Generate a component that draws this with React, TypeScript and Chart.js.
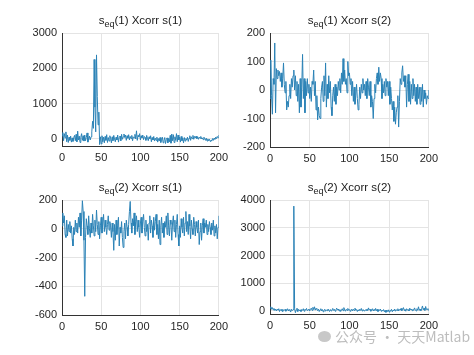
import React, { useEffect, useRef } from 'react';
import { Chart, registerables } from 'chart.js';
Chart.register(...registerables);

// ---------------- data ----------------
const xTicks = [0, 50, 100, 150, 200];

const yTicksA = [0, 1000, 2000, 3000];
const yTicksB = [-200, -100, 0, 100, 200];
const yTicksC = [-600, -400, -200, 0, 200];
const yTicksD = [0, 1000, 2000, 3000, 4000];

// s_eq(1) Xcorr s(1)
const seriesA = [
  90, 180, -50, 150, 30, 200, -80, 110, -100, 50,
  -40, 80, -90, 30, -70, 40, 100, -50, 130, -80,
  220, -30, 80, -100, 50, 150, -40, 90, -60, 110,
  -50, 40, 170, -90, 10, 80, -30, 60, 200, 500,
  300, 2250, 900, 200, 2380, 1200, 400, 760, -160, 60,
  -140, 90, -80, 50, -110, 70, -40, 120, -100, 40,
  -60, 90, 20, -110, 60, -50, 100, 0, -80, 50,
  -30, 110, -90, 40, 80, -50, 130, -10, 60, 140,
  40, 110, -40, 90, 20, 120, -30, 70, 10, 100,
  -50, 60, 30, 130, 0, 230, -40, 100, 60, 150,
  -30, 90, 30, 110, -20, 70, 40, -40, 100, 20,
  -50, 60, 10, 90, -80, 40, -30, 70, -60, 20,
  -40, 50, -90, 10, -60, 40, -100, -10, 50, -110,
  -50, 40, -130, -20, 30, -110, 10, -80, 100, -120,
  140, -50, 120, -100, 60, -40, 150, -80, 110, -30,
  50, -90, 70, -50, 20, -110, 40, -60, 10, -30,
  50, -70, 20, 90, -40, 60, 10, 100, -10, 70,
  30, 80, 10, 60, -10, 50, 20, 70, 0, 30,
  -20, 50, 10, -40, 20, -60, 0, -50, -10, -70,
  -30, -60, 10, -40, 20, -10, 50, 10, 70, 30,
  110,
];

// s_eq(1) Xcorr s(2)
const seriesB = [
  -30, 105, -20, -85, 40, 20, 165, -80, 75, 40,
  70, 50, 65, 30, 60, 10, 40, 95, 20, -10,
  30, -70, -40, -60, -20, 20, -30, 40, 10, 50,
  70, 0, 50, -20, 30, -40, 20, -80, 40, -60,
  10, 125, -30, 40, -80, 30, -20, 40, -10, 20,
  -30, 10, -40, 30, 20, 70, -20, 30, -70, -20,
  -105, -60, -90, -100, -30, 10, 30, -40, 50, -20,
  95, -60, 20, -30, 50, -10, 30, -60, -90, -20,
  10, -40, 20, -50, 10, -20, 30, 0, 40, -10,
  60, 20, 110, 30, 70, 20, 40, -10, 100, 50,
  60, 20, 40, -20, 30, -40, 10, -50, -20, 20,
  -30, -70, -50, 10, -30, 20, -10, 40, 0, 20,
  -20, 30, -30, 40, 10, -20, 30, -60, -20, -40,
  -100, -30, 20, -10, 40, 60, 20, 80, 30, 60,
  40, -30, 20, -10, 30, -20, 40, 10, 30, -20,
  30, -50, 10, -30, -70, -40, -110, -60, -120, -80,
  -60, -20, -130, -40, 40, 20, 60, 85, 30, 50,
  10, 50, -60, 20, 55, -40, 30, -50, 20, -30,
  40, -20, 20, -40, 10, -50, 20, -30, 10, -50,
  10, -40, 20, -60, 0, -30, -10, -50, -20, -30,
  0,
];

// s_eq(2) Xcorr s(1)
const seriesC = [
  20, 110, 40, 90, -40, -60, 60, -50, 30, -20,
  50, -30, 20, -70, -120, 10, -40, 60, -20, 40,
  -30, 80, 10, 110, -50, 60, 195, 120, -80, -470,
  -60, 70, 20, -40, 90, 0, -60, 40, -30, 100,
  20, -50, 60, -20, 130, 30, -40, 50, -70, 20,
  80, -30, 40, 100, -20, 60, 10, -40, 30, 90,
  -10, 50, 20, -60, 40, -20, -150, 30, -80, 60,
  -40, 20, 80, -120, 10, -30, 50, -60, -130, -20,
  40, -70, 60, 10, -50, 30, 120, 190, 40, -30,
  70, 20, 110, -40, 50, 90, -20, 60, 10, -60,
  40, 80, -30, 50, 100, 10, -50, 60, -20, 30,
  -80, 40, 90, -30, 60, 20, -60, 80, -10, 50,
  100, -40, 30, -70, 60, -110, 20, 80, -30, 40,
  -60, 50, 10, 90, -40, 110, 20, -50, 60, 30,
  -80, 40, 90, -20, 60, -60, 30, 100, -40, -120,
  20, -60, 70, 10, -30, 80, -50, 40, 120, -20,
  50, -40, 100, 20, -70, 60, 0, -40, 80, 30,
  -50, 50, 10, -30, 60, -110, -20, 40, -80, 20,
  70, -30, 40, 10, 60, -40, 30, -20, 50, 10,
  -40, 40, -10, 60, -50, 20, -30, 30, -70, 10,
  90,
];

// s_eq(2) Xcorr s(2)
const seriesD = [
  100, 150, 60, 120, 40, 90, 20, 70, 0, 60,
  30, 80, -20, 50, 10, 70, -30, 40, 20, 60,
  -10, 30, 80, 0, 50, 20, -40, 60, 10, 50,
  3780, 80, -60, 40, 100, -30, 60, 0, 40, -20,
  50, 20, 80, -10, 60, 30, 90, 10, 40, 70,
  0, 60, 100, 20, 130, 50, 150, 30, 90, 60,
  10, 70, -20, 40, 80, 0, 50, -30, 30, 60,
  -10, 40, 10, 70, 20, -20, 50, 0, 30, 90,
  20, 60, -10, 40, 100, 30, 70, 0, 50, -20,
  30, 80, 10, 120, 40, -10, 60, 20, 90, 30,
  50, -10, 40, 70, 0, 60, 20, 100, 30, 50,
  -20, 40, 10, 60, 20, 90, 0, 50, 30, -10,
  40, 20, 70, 10, 110, 30, 60, -10, 40, 80,
  0, 50, 20, 90, 10, 60, -20, 40, 20, 70,
  -10, 30, 0, 50, -30, 20, -50, 30, -20, 40,
  -40, 20, 0, 60, -30, 30, 10, 70, -10, 40,
  20, 80, 0, 50, 30, 90, 10, 60, 120, 20,
  60, -10, 80, 30, 50, 0, 100, 40, 70, 10,
  60, 20, 110, 40, 0, 80, 30, 150, 20, 70,
  10, 90, 180, 40, 100, 20, 160, 50, 80, 30,
  90,
];

// ---------------- styles ----------------
const LINE = '#2b82b6';
const GRID = '#e4e4e4';
const AXIS = '#333333';
const TEXT = '#262626';
const FONT_FAMILY = '"Liberation Sans", Arial, Helvetica, sans-serif';

const PADL = 55;
const PADT = 30;
const PADR = 14;
const PADB = 24;

type Rect = { left: number; top: number; right: number; bottom: number };

type PanelProps = {
  rect: Rect;
  values: number[];
  yMin: number;
  yMax: number;
  yTicks: number[];
  sub: string;
  rest: string;
};

function Panel({ rect, values, yMin, yMax, yTicks, sub, rest }: PanelProps) {
  const ref = useRef<HTMLCanvasElement>(null);
  const w = rect.right - rect.left + PADL + PADR;
  const h = rect.bottom - rect.top + PADT + PADB;

  useEffect(() => {
    const titlePlugin = {
      id: 'matlabTitle',
      afterDraw(chart: any) {
        const ctx = chart.ctx as CanvasRenderingContext2D;
        const ca = chart.chartArea;
        const mainFont = `11.5px ${FONT_FAMILY}`;
        const subFont = `9px ${FONT_FAMILY}`;
        ctx.save();
        ctx.fillStyle = '#1a1a1a';
        ctx.textBaseline = 'alphabetic';
        ctx.textAlign = 'left';
        ctx.font = mainFont;
        const w1 = ctx.measureText('s').width;
        const w3 = ctx.measureText(rest).width;
        ctx.font = subFont;
        const w2 = ctx.measureText(sub).width;
        const total = w1 + w2 + w3;
        const x0 = (ca.left + ca.right) / 2 - total / 2;
        const base = ca.top - 9;
        ctx.font = mainFont;
        ctx.fillText('s', x0, base);
        ctx.font = subFont;
        ctx.fillText(sub, x0 + w1, base + 3);
        ctx.font = mainFont;
        ctx.fillText(rest, x0 + w1 + w2, base);
        ctx.restore();
      },
    };

    const chart = new Chart(ref.current as HTMLCanvasElement, {
      type: 'line',
      data: {
        datasets: [
          {
            data: values.map((v, i) => ({ x: i, y: v })),
            borderColor: LINE,
            borderWidth: 1,
            pointRadius: 0,
            fill: false,
            tension: 0,
          },
        ],
      },
      options: {
        animation: false,
        responsive: false,
        maintainAspectRatio: false,
        devicePixelRatio: 1,
        layout: { padding: { left: 0, top: PADT, right: PADR, bottom: 0 } },
        plugins: {
          legend: { display: false },
          tooltip: { enabled: false },
          title: { display: false },
        },
        scales: {
          x: {
            type: 'linear',
            min: 0,
            max: 200,
            afterBuildTicks: (s: any) => {
              s.ticks = xTicks.map((v) => ({ value: v }));
            },
            afterFit: (s: any) => {
              s.height = PADB;
            },
            grid: { color: GRID, drawTicks: false, lineWidth: 1 },
            border: { display: true, color: AXIS, width: 1 },
            ticks: {
              padding: 5,
              color: TEXT,
              maxRotation: 0,
              autoSkip: false,
              font: { family: FONT_FAMILY, size: 11 },
              callback: (v: any) => String(v),
            },
          },
          y: {
            type: 'linear',
            min: yMin,
            max: yMax,
            afterBuildTicks: (s: any) => {
              s.ticks = yTicks.map((v) => ({ value: v }));
            },
            afterFit: (s: any) => {
              s.width = PADL;
            },
            grid: { color: GRID, drawTicks: false, lineWidth: 1 },
            border: { display: true, color: AXIS, width: 1 },
            ticks: {
              padding: 5,
              color: TEXT,
              autoSkip: false,
              font: { family: FONT_FAMILY, size: 11 },
              callback: (v: any) => String(v),
            },
          },
        },
      } as any,
      plugins: [titlePlugin],
    });
    return () => chart.destroy();
  }, []);

  return (
    <canvas
      ref={ref}
      width={w}
      height={h}
      style={{
        position: 'absolute',
        left: rect.left - PADL,
        top: rect.top - PADT,
        width: w,
        height: h,
      }}
    />
  );
}

export default function App() {
  return (
    <div
      style={{
        position: 'absolute',
        left: 0,
        top: 0,
        width: 474,
        height: 355,
        background: '#ffffff',
        overflow: 'hidden',
      }}
    >
      <Panel
        rect={{ left: 62, top: 33, right: 219, bottom: 146 }}
        values={seriesA}
        yMin={-200}
        yMax={3000}
        yTicks={yTicksA}
        sub="eq"
        rest="(1) Xcorr s(1)"
      />
      <Panel
        rect={{ left: 270, top: 33, right: 429, bottom: 147 }}
        values={seriesB}
        yMin={-200}
        yMax={200}
        yTicks={yTicksB}
        sub="eq"
        rest="(1) Xcorr s(2)"
      />
      <Panel
        rect={{ left: 62, top: 200, right: 219, bottom: 315 }}
        values={seriesC}
        yMin={-600}
        yMax={200}
        yTicks={yTicksC}
        sub="eq"
        rest="(2) Xcorr s(1)"
      />
      <Panel
        rect={{ left: 270, top: 200, right: 429, bottom: 314 }}
        values={seriesD}
        yMin={-110}
        yMax={4000}
        yTicks={yTicksD}
        sub="eq"
        rest="(2) Xcorr s(2)"
      />
      <div
        style={{
          position: 'absolute',
          left: 318,
          top: 326,
          display: 'flex',
          alignItems: 'center',
          color: '#bdbdbd',
          fontFamily: '"Noto Sans CJK SC", "Noto Sans", sans-serif',
          fontSize: 14,
          lineHeight: '20px',
          whiteSpace: 'nowrap',
        }}
      >
        <span
          style={{
            display: 'inline-block',
            width: 13,
            height: 11,
            borderRadius: '50%',
            background: '#c8c8c8',
            marginRight: 4,
          }}
        />
        <span>公众号 · 天天Matlab</span>
      </div>
    </div>
  );
}
